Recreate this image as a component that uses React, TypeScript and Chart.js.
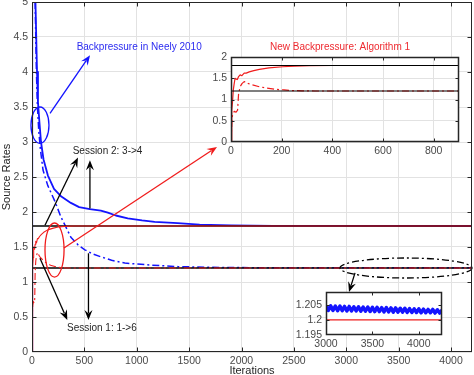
import React, { useEffect, useRef } from 'react';
import { Chart, registerables } from 'chart.js';

Chart.register(...registerables);

// ---------------- data ----------------
const mainXTicks = [0, 500, 1000, 1500, 2000, 2500, 3000, 3500, 4000];
const mainYTicks = [0, 0.5, 1, 1.5, 2, 2.5, 3, 3.5, 4, 4.5, 5];
const inset1XTicks = [0, 200, 400, 600, 800];
const inset1YTicks = [0, 0.5, 1, 1.5, 2];
const inset2XTicks = [3000, 3500, 4000];
const inset2YTicks = [1.195, 1.2, 1.205];

// optimal (target) rates
const targetX = [0, 4250];
const targetSession2 = [1.8, 1.8];
const targetSession1 = [1.2, 1.2];

// Backpressure in Neely 2010 (blue)
const neelyS2X = [0, 2, 33, 48, 57, 70, 86, 110, 152, 210, 280, 371, 450, 552, 657, 724, 800, 914, 1050, 1171, 1390, 1600, 1900, 2300, 3000, 4250];
const neelyS2Y = [0, 7, 5.0, 4.0, 3.57, 3.3, 3.0, 2.75, 2.52, 2.33, 2.22, 2.13, 2.07, 2.04, 2.02, 1.99, 1.95, 1.91, 1.88, 1.86, 1.84, 1.82, 1.81, 1.803, 1.801, 1.8];
const neelyS1X = [0, 2, 30, 42, 52, 65, 80, 105, 150, 219, 276, 371, 440, 505, 580, 657, 760, 886, 1100, 1390, 1700, 2100, 3000, 4250];
const neelyS1Y = [0, 7, 5.0, 4.0, 3.5, 3.15, 2.9, 2.6, 2.38, 2.15, 1.93, 1.64, 1.53, 1.46, 1.4, 1.36, 1.31, 1.27, 1.245, 1.22, 1.21, 1.205, 1.204, 1.203];

// New Backpressure: Algorithm 1 (red)
const algS2X = [0, 3, 6, 9, 12, 16, 20, 25, 30, 36, 43, 52, 60, 72, 90, 112, 150, 204, 250, 309, 400, 600, 900, 4250];
const algS2Y = [0, 0.75, 0.95, 1.22, 1.35, 1.5, 1.48, 1.47, 1.54, 1.58, 1.56, 1.62, 1.62, 1.65, 1.68, 1.71, 1.745, 1.77, 1.785, 1.795, 1.8, 1.8, 1.8, 1.8];
const algS1X = [0, 4, 7, 13, 20, 26, 30, 36, 44, 52, 60, 66, 80, 112, 140, 177, 210, 243, 280, 330, 400, 900, 4250];
const algS1Y = [0, 0.55, 0.67, 0.72, 0.7, 0.75, 1.14, 1.3, 1.38, 1.42, 1.41, 1.38, 1.35, 1.3, 1.27, 1.24, 1.225, 1.21, 1.205, 1.2, 1.2, 1.2, 1.2];

// zoomed steady state (3000..4250), blue oscillation band
const bandStartX = 3000;
const bandStepX = 25;
const bandHigh = [1.2047, 1.2047, 1.2046, 1.2046, 1.2045, 1.2045, 1.2044, 1.2044, 1.2043, 1.2043, 1.2042, 1.2042, 1.2041, 1.2041, 1.204, 1.204, 1.2039, 1.2039, 1.2038, 1.2037, 1.2037, 1.2036, 1.2035, 1.2035, 1.2034, 1.2033];
const bandLow = [1.2032, 1.2032, 1.2031, 1.2031, 1.203, 1.203, 1.203, 1.2029, 1.2029, 1.2028, 1.2028, 1.2028, 1.2027, 1.2027, 1.2026, 1.2026, 1.2026, 1.2025, 1.2025, 1.2025, 1.2024, 1.2024, 1.2024, 1.2023, 1.2023];
const zoomRedX = [3000, 4250];
const zoomRedY = [1.2, 1.2];

// ---------------- styles ----------------
const FONT = "'Liberation Sans', Arial, Helvetica, sans-serif";
const C_BLUE = '#1414ff';
const C_RED = '#f01c1c';
const C_BLACK = '#000000';
const C_TEXT = '#262626';
const C_TICK = '#4a4a4a';
const C_GRID = '#e2e2e2';
const DASHDOT = [7, 3, 2, 3];

// annotations (data coordinates of the main axes)
const ellipses = [
  { cx: 76, cy: 3.24, rx: 86, ry: 0.26, color: C_BLUE, dash: false },
  { cx: 215, cy: 1.457, rx: 91, ry: 0.386, color: C_RED, dash: false },
  { cx: 3570, cy: 1.2, rx: 630, ry: 0.143, color: C_BLACK, dash: true },
];
const arrows = [
  { from: [172, 3.41], to: [554, 4.24], color: C_BLUE },
  { from: [305, 1.486], to: [1766, 2.93], color: C_RED },
  { from: [124, 1.81], to: [439, 2.78], color: C_BLACK },
  { from: [553, 2.05], to: [553, 2.74], color: C_BLACK },
  { from: [76, 1.34], to: [337, 0.457], color: C_BLACK },
  { from: [539, 1.41], to: [539, 0.457], color: C_BLACK },
  { from: [3083, 1.13], to: [3026, 0.857], color: C_BLACK },
];
const labels = [
  { text: 'Backpressure in Neely 2010', x: 426, y: 4.36, color: '#2b2bf0' },
  { text: 'New Backpressure: Algorithm 1', x: 2272, y: 4.36, color: '#ee2a30' },
  { text: 'Session 2: 3->4', x: 388, y: 2.87, color: C_TEXT },
  { text: 'Session 1: 1->6', x: 334, y: 0.343, color: C_TEXT },
];

// ---------------- helpers ----------------
function series(xs: number[], ys: number[]) {
  return xs.map((x, i) => ({ x, y: ys[i] }));
}

function lineDs(data: { x: number; y: number }[], color: string, width: number, dash?: number[]) {
  return {
    data,
    borderColor: color,
    backgroundColor: color,
    borderWidth: width,
    borderDash: dash || [],
    pointRadius: 0,
    tension: 0,
    fill: false,
    borderJoinStyle: 'round' as const,
  };
}

function axis(kind: 'x' | 'y', min: number, max: number, ticks: number[], size: number, grid: boolean, title?: string, titlePad = 0) {
  return {
    type: 'linear' as const,
    min,
    max,
    afterBuildTicks: (s: any) => {
      s.ticks = ticks.map((v) => ({ value: v }));
    },
    afterFit: (s: any) => {
      if (kind === 'x') s.height = size;
      else s.width = size;
      s.paddingTop = 0;
      s.paddingBottom = 0;
      s.paddingLeft = 0;
      s.paddingRight = 0;
    },
    ticks: {
      font: { family: FONT, size: 10.5 },
      color: C_TICK,
      padding: kind === 'x' ? 3 : 4,
      maxRotation: 0,
      autoSkip: false,
      callback: (v: any) => String(v),
    },
    grid: { display: grid, color: C_GRID, drawTicks: false, lineWidth: 1 },
    border: { display: false },
    title: title
      ? { display: true, text: title, font: { family: FONT, size: 11 }, color: C_TEXT, padding: { top: 0, bottom: titlePad } }
      : { display: false },
  };
}

function drawArrow(ctx: CanvasRenderingContext2D, x1: number, y1: number, x2: number, y2: number, color: string) {
  const ang = Math.atan2(y2 - y1, x2 - x1);
  const head = 10;
  const hw = 4;
  const c = Math.cos(ang);
  const s = Math.sin(ang);
  ctx.save();
  ctx.strokeStyle = color;
  ctx.fillStyle = color;
  ctx.lineWidth = 1.3;
  ctx.setLineDash([]);
  ctx.beginPath();
  ctx.moveTo(x1, y1);
  ctx.lineTo(x2 - head * 0.7 * c, y2 - head * 0.7 * s);
  ctx.stroke();
  ctx.beginPath();
  ctx.moveTo(x2, y2);
  ctx.lineTo(x2 - head * c + hw * s, y2 - head * s - hw * c);
  ctx.lineTo(x2 - head * 0.65 * c, y2 - head * 0.65 * s);
  ctx.lineTo(x2 - head * c - hw * s, y2 - head * s + hw * c);
  ctx.closePath();
  ctx.fill();
  ctx.restore();
}

function makeOverlay(tickLen: number, white: boolean, frameWidth: number, annotate: boolean) {
  return {
    id: 'overlay',
    beforeDraw(chart: any) {
      if (!white) return;
      const a = chart.chartArea;
      const ctx = chart.ctx;
      ctx.save();
      ctx.fillStyle = '#ffffff';
      ctx.fillRect(a.left, a.top, a.right - a.left, a.bottom - a.top);
      ctx.restore();
    },
    afterDraw(chart: any) {
      const ctx: CanvasRenderingContext2D = chart.ctx;
      const a = chart.chartArea;
      const sx = chart.scales.x;
      const sy = chart.scales.y;
      ctx.save();
      if (annotate) {
        for (const e of ellipses) {
          const cx = sx.getPixelForValue(e.cx);
          const cy = sy.getPixelForValue(e.cy);
          const rx = Math.abs(sx.getPixelForValue(e.cx + e.rx) - cx);
          const ry = Math.abs(sy.getPixelForValue(e.cy + e.ry) - cy);
          ctx.strokeStyle = e.color;
          ctx.lineWidth = 1.3;
          ctx.setLineDash(e.dash ? DASHDOT : []);
          ctx.beginPath();
          ctx.ellipse(cx, cy, rx, ry, 0, 0, Math.PI * 2);
          ctx.stroke();
        }
        ctx.setLineDash([]);
        for (const ar of arrows) {
          drawArrow(
            ctx,
            sx.getPixelForValue(ar.from[0]),
            sy.getPixelForValue(ar.from[1]),
            sx.getPixelForValue(ar.to[0]),
            sy.getPixelForValue(ar.to[1]),
            ar.color
          );
        }
        ctx.font = `10px ${FONT}`;
        ctx.textBaseline = 'middle';
        ctx.textAlign = 'left';
        for (const l of labels) {
          ctx.fillStyle = l.color;
          ctx.fillText(l.text, sx.getPixelForValue(l.x), sy.getPixelForValue(l.y));
        }
      }
      // frame + inner ticks
      ctx.setLineDash([]);
      ctx.strokeStyle = '#262626';
      ctx.lineWidth = 1;
      const L = Math.round(a.left) + 0.5;
      const R = Math.round(a.right) - 0.5;
      const T = Math.round(a.top) + 0.5;
      const B = Math.round(a.bottom) - 0.5;
      ctx.beginPath();
      for (const t of sx.ticks) {
        const p = Math.round(sx.getPixelForValue(t.value)) + 0.5;
        if (p <= L + 1 || p >= R - 1) continue;
        ctx.moveTo(p, B);
        ctx.lineTo(p, B - tickLen);
        ctx.moveTo(p, T);
        ctx.lineTo(p, T + tickLen);
      }
      for (const t of sy.ticks) {
        const p = Math.round(sy.getPixelForValue(t.value)) + 0.5;
        if (p <= T + 1 || p >= B - 1) continue;
        ctx.moveTo(L, p);
        ctx.lineTo(L + tickLen, p);
        ctx.moveTo(R, p);
        ctx.lineTo(R - tickLen, p);
      }
      ctx.stroke();
      ctx.lineWidth = frameWidth;
      ctx.strokeRect(L, T, R - L, B - T);
      ctx.restore();
    },
  };
}

export default function App() {
  const mainRef = useRef<HTMLCanvasElement>(null);
  const in1Ref = useRef<HTMLCanvasElement>(null);
  const in2Ref = useRef<HTMLCanvasElement>(null);

  useEffect(() => {
    document.body.style.margin = '0';
    const common = {
      animation: false as const,
      responsive: true,
      maintainAspectRatio: false,
      events: [] as any[],
      plugins: { legend: { display: false }, tooltip: { enabled: false } },
    };

    const main = new Chart(mainRef.current as HTMLCanvasElement, {
      type: 'line',
      data: {
        datasets: [
          lineDs(series(algS2X, algS2Y), C_RED, 1.1),
          lineDs(series(algS1X, algS1Y), C_RED, 1.1, DASHDOT),
          lineDs(series(targetX, targetSession2), C_BLACK, 1.6),
          lineDs(series(targetX, targetSession1), C_BLACK, 1.6),
          lineDs(series(neelyS2X, neelyS2Y), C_BLUE, 1.8),
          lineDs(series(neelyS1X, neelyS1Y), C_BLUE, 1.5, DASHDOT),
        ] as any,
      },
      options: {
        ...common,
        layout: { padding: { top: 2, right: 2, left: 0, bottom: 0 } },
        scales: {
          x: axis('x', 0, 4200, mainXTicks, 23, true, 'Iterations', -3),
          y: axis('y', 0, 5, mainYTicks, 32, true, 'Source Rates'),
        } as any,
      },
      plugins: [makeOverlay(4, false, 1, true)],
    });

    const in1 = new Chart(in1Ref.current as HTMLCanvasElement, {
      type: 'line',
      data: {
        datasets: [
          lineDs(series(targetX, targetSession2), C_BLACK, 1.2),
          lineDs(series(targetX, targetSession1), C_BLACK, 1.2),
          lineDs(series(algS2X, algS2Y), C_RED, 1.2),
          lineDs(series(algS1X, algS1Y), C_RED, 1.2, DASHDOT),
        ] as any,
      },
      options: {
        ...common,
        layout: { padding: { top: 17, right: 11, left: 0, bottom: 0 } },
        scales: {
          x: axis('x', 0, 900, inset1XTicks, 18, true),
          y: axis('y', 0, 2, inset1YTicks, 31, true),
        } as any,
      },
      plugins: [makeOverlay(3, true, 1.5, false)],
    });

    const bandX: number[] = [];
    const bandY: number[] = [];
    for (let i = 0; i < bandHigh.length + bandLow.length; i++) {
      bandX.push(bandStartX + i * bandStepX);
      bandY.push(i % 2 === 0 ? bandHigh[i / 2] : bandLow[(i - 1) / 2]);
    }

    const in2 = new Chart(in2Ref.current as HTMLCanvasElement, {
      type: 'line',
      data: {
        datasets: [
          lineDs(series(zoomRedX, zoomRedY), C_RED, 1.3),
          lineDs(series(bandX, bandY), C_BLUE, 3.5),
        ] as any,
      },
      options: {
        ...common,
        layout: { padding: { top: 12, right: 18, left: 0, bottom: 0 } },
        scales: {
          x: axis('x', 3000, 4250, inset2XTicks, 20, false),
          y: axis('y', 1.195, 1.2093, inset2YTicks, 36, false),
        } as any,
      },
      plugins: [makeOverlay(3, true, 1.5, false)],
    });

    return () => {
      main.destroy();
      in1.destroy();
      in2.destroy();
    };
  }, []);

  const box = (l: number, t: number, w: number, h: number): React.CSSProperties => ({
    position: 'absolute',
    left: l,
    top: t,
    width: w,
    height: h,
  });

  return (
    <div style={{ position: 'relative', width: 474, height: 375, overflow: 'hidden', background: '#fff' }}>
      <div style={box(0, 0, 474, 375)}>
        <canvas ref={mainRef} />
      </div>
      <div style={box(200, 40, 270, 120)}>
        <canvas ref={in1Ref} />
      </div>
      <div style={box(290, 280, 170, 75)}>
        <canvas ref={in2Ref} />
      </div>
    </div>
  );
}
